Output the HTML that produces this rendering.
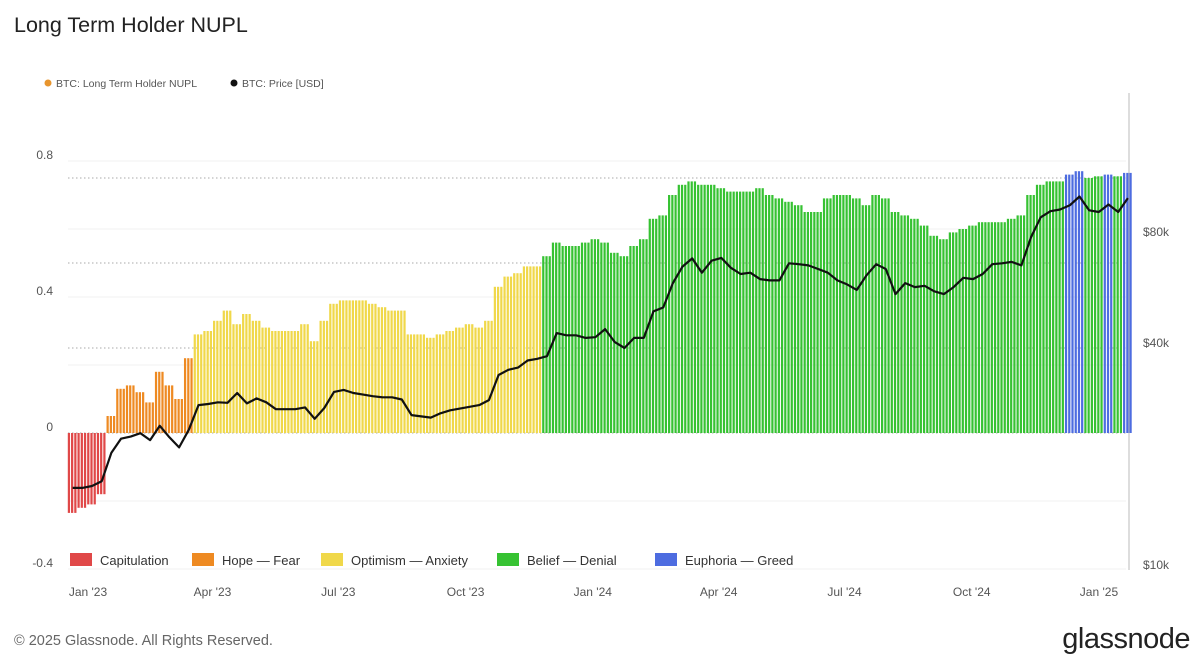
<!DOCTYPE html>
<html><head><meta charset="utf-8"><style>
body{margin:0;background:#fff;font-family:"Liberation Sans",sans-serif;}
#wrap{position:relative;width:1200px;height:658px;overflow:hidden;}
</style></head><body>
<div id="wrap">
<svg id="chart" width="1200" height="658" xmlns="http://www.w3.org/2000/svg">
<text x="14" y="32" font-size="21.5" fill="#222">Long Term Holder NUPL</text>
<g>
<circle cx="48" cy="83" r="3.5" fill="#e8952e"/>
<text x="56" y="87" font-size="10.5" fill="#555">BTC: Long Term Holder NUPL</text>
<circle cx="234" cy="83" r="3.5" fill="#111"/>
<text x="242" y="87" font-size="10.5" fill="#555">BTC: Price [USD]</text>
</g>
<line x1="1129" y1="93" x2="1129" y2="570" stroke="#bbb" stroke-width="1"/>
<g id="grid"></g>
<g id="bars"></g>
<g id="line"></g>
<g id="axes"></g>
<g font-size="13" fill="#333">
<rect x="70" y="553" width="22" height="13" fill="#e04848"/><text x="100" y="565">Capitulation</text>
<rect x="192" y="553" width="22" height="13" fill="#ee8a22"/><text x="222" y="565">Hope — Fear</text>
<rect x="321" y="553" width="22" height="13" fill="#f0d84a"/><text x="351" y="565">Optimism — Anxiety</text>
<rect x="497" y="553" width="22" height="13" fill="#36c232"/><text x="527" y="565">Belief — Denial</text>
<rect x="655" y="553" width="22" height="13" fill="#4d6ce0"/><text x="685" y="565">Euphoria — Greed</text>
</g>
<text x="14" y="645" font-size="14.5" fill="#666">© 2025 Glassnode. All Rights Reserved.</text>
<text x="1190" y="648" font-size="29" fill="#222" text-anchor="end" letter-spacing="-0.5">glassnode</text>
</svg>
</div>
<script>
const weekStart = "2022-12-18";
const nuplValues = [-0.235,-0.22,-0.21,-0.18,0.05,0.13,0.14,0.12,0.09,0.18,0.14,0.10,0.22,0.29,0.30,0.33,0.36,0.32,0.35,0.33,0.31,0.30,0.30,0.30,0.32,0.27,0.33,0.38,0.39,0.39,0.39,0.38,0.37,0.36,0.36,0.29,0.29,0.28,0.29,0.30,0.31,0.32,0.31,0.33,0.43,0.46,0.47,0.49,0.49,0.52,0.56,0.55,0.55,0.56,0.57,0.56,0.53,0.52,0.55,0.57,0.63,0.64,0.70,0.73,0.74,0.73,0.73,0.72,0.71,0.71,0.71,0.72,0.70,0.69,0.68,0.67,0.65,0.65,0.69,0.70,0.70,0.69,0.67,0.70,0.69,0.65,0.64,0.63,0.61,0.58,0.57,0.59,0.60,0.61,0.62,0.62,0.62,0.63,0.64,0.70,0.73,0.74,0.74,0.76,0.77,0.75,0.755,0.76,0.755,0.765];
const priceValues = [16.7,16.7,16.9,17.4,20.8,22.7,23.0,23.5,22.5,24.6,22.9,21.5,24.0,28.0,28.2,28.5,28.4,30.2,28.3,29.2,28.5,27.3,27.3,27.3,27.6,25.7,27.5,30.4,30.8,30.2,29.9,29.6,29.4,29.4,29.0,26.3,26.1,25.9,26.6,27.1,27.4,27.7,28.0,28.9,33.8,34.9,35.4,37.0,37.4,38.0,43.9,43.3,43.3,42.6,42.8,45.0,41.5,40.0,42.6,42.6,50.3,51.5,60.0,66.5,70.0,64.0,69.0,70.2,66.0,63.5,64.0,61.5,61.0,61.0,67.9,67.5,67.0,65.5,64.0,61.0,59.5,57.5,63.0,67.5,65.5,56.0,60.0,58.5,59.0,57.0,56.0,58.5,62.0,61.5,63.5,67.5,67.9,68.5,67.0,80.0,90.5,94.0,95.0,97.5,103.0,94.5,93.5,98.0,93.5,102.0];
const leftTicks = [0.8,0.4,0,-0.4];
const rightTicks = [80,40,10];
const xTickLabels = ["Jan '23","Apr '23","Jul '23","Oct '23","Jan '24","Apr '24","Jul '24","Oct '24","Jan '25"];
const xTickDates = ["2023-01-01","2023-04-01","2023-07-01","2023-10-01","2024-01-01","2024-04-01","2024-07-01","2024-10-01","2025-01-01"];

const NS="http://www.w3.org/2000/svg";
const day0=Date.parse("2023-01-01");
function xDate(d){return 88+(Date.parse(d)-day0)/86400000*1.383;}
function xIdx(i){return xDate(weekStart)+i*7*1.383+4;}
function yL(v){return 433-v*340;}
function yR(p){return 348-Math.log2(p/40)*111;}
function mk(tag,attrs,parent){const e=document.createElementNS(NS,tag);for(const k in attrs)e.setAttribute(k,attrs[k]);parent.appendChild(e);return e;}
function color(v){if(v<0)return"#e04848";if(v<0.25)return"#ee8a22";if(v<0.5)return"#f0d84a";if(v<0.76)return"#36c232";return"#4d6ce0";}

const grid=document.getElementById('grid');
[0.8,0.6,0.4,0.2,-0.2,-0.4].forEach(v=>{
  const l=mk('line',{x1:68,x2:1126,y1:yL(v),y2:yL(v),stroke:'#f0f0f0','stroke-width':1},grid);
  
  
});
[0.75,0.5,0.25,0].forEach(v=>{
  const l=mk('line',{x1:68,x2:1126,y1:yL(v),y2:yL(v),stroke:'#aaa','stroke-width':1,'stroke-dasharray':'1.5,2.5'},grid);
  
  
});

const bars=document.getElementById('bars');
const bw=7*1.383;
nuplValues.forEach((v,i)=>{
  const x=xIdx(i)-bw/2;
  const y=Math.min(yL(v),yL(0));
  const h=Math.abs(yL(v)-yL(0));
  for(let k=0;k<3;k++){
    const r=mk('rect',{x:x+k*bw/3,y:y,width:bw/3-1,height:h,fill:color(v)},bars);
    
    
  }
});

const lg=document.getElementById('line');
let d='';
priceValues.forEach((p,i)=>{d+=(i?'L':'M')+xIdx(i).toFixed(1)+','+yR(p).toFixed(1);});
const pl=mk('path',{d:d,fill:'none',stroke:'#111','stroke-width':2.2,'stroke-linejoin':'round'},lg);



const ax=document.getElementById('axes');
leftTicks.forEach(v=>{
  const t=mk('text',{x:53,y:yL(v)-2,'font-size':12,fill:'#555','text-anchor':'end'},ax);
  t.textContent=String(v);
  
  
});
rightTicks.forEach(p=>{
  const t=mk('text',{x:1143,y:yR(p)-1,'font-size':12,fill:'#555'},ax);
  t.textContent='$'+p+'k';
  
  
});
xTickLabels.forEach((lab,i)=>{
  const t=mk('text',{x:xDate(xTickDates[i]),y:596,'font-size':12,fill:'#555','text-anchor':'middle'},ax);
  t.textContent=lab;
  
  
});
</script>
</body></html>
